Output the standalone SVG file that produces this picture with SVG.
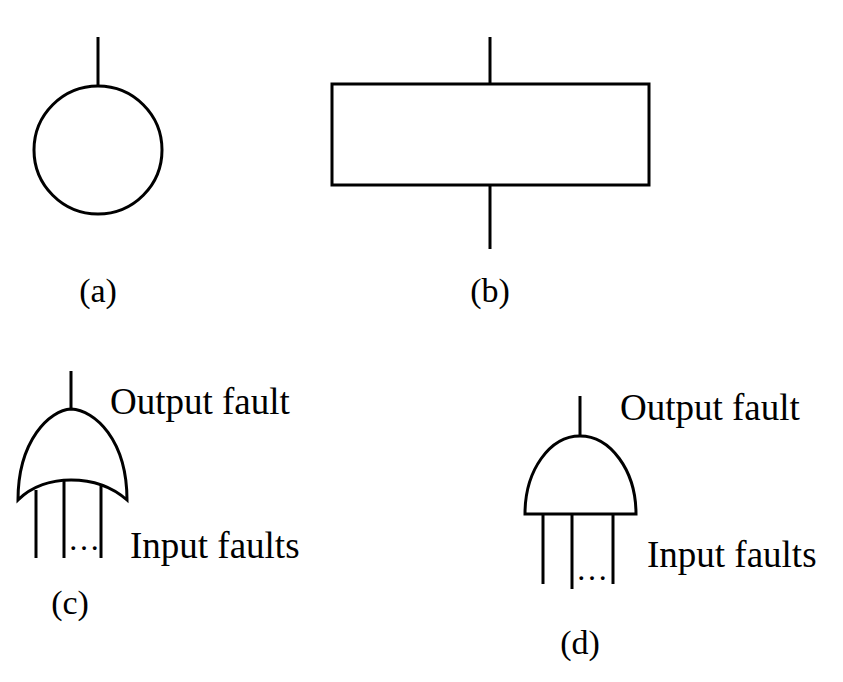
<svg xmlns="http://www.w3.org/2000/svg" width="843" height="682" viewBox="0 0 843 682">
<style>
.s{fill:none;stroke:#000;stroke-width:3}
text{font-family:"Liberation Serif",serif;font-size:34px;fill:#000}
.l{font-size:37px}
</style>
<rect width="843" height="682" fill="#fff"/>
<g id="a"><line class="s" x1="98" y1="37" x2="98" y2="87"/><circle class="s" cx="98" cy="150" r="64"/><text x="98" y="302" text-anchor="middle">(a)</text></g>
<g id="b"><line class="s" x1="490" y1="37" x2="490" y2="84"/><rect class="s" x="332" y="84" width="317" height="101"/><line class="s" x1="490" y1="185" x2="490" y2="249"/><text x="490" y="302" text-anchor="middle">(b)</text></g>
<g id="c"><line class="s" x1="71" y1="371" x2="71" y2="410"/>
<path class="s" d="M18,500 C18,440 50,410 71,409 C95,410 127,440 127,500 C110,485 90,480 71,480 C52,480 32,486 18,500 Z"/>
<line class="s" x1="36" y1="490" x2="36" y2="558"/><line class="s" x1="64" y1="481" x2="64" y2="558"/><line class="s" x1="101" y1="484" x2="101" y2="558"/>
<text x="68" y="550" style="font-size:32px">…</text>
<text class="l" x="110" y="414">Output fault</text><text class="l" x="130" y="558">Input faults</text><text x="70" y="614" text-anchor="middle">(c)</text></g>
<g id="d"><line class="s" x1="580" y1="396" x2="580" y2="436"/>
<path class="s" d="M525,514 C525,470 550,436 580,436 C610,436 636,470 636,514 Z"/>
<line class="s" x1="543" y1="514" x2="543" y2="584"/><line class="s" x1="572" y1="514" x2="572" y2="589"/><line class="s" x1="613" y1="514" x2="613" y2="584"/>
<text x="576" y="580" style="font-size:32px">…</text>
<text class="l" x="620" y="420">Output fault</text><text class="l" x="647" y="567">Input faults</text><text x="580" y="654" text-anchor="middle">(d)</text></g>
</svg>
